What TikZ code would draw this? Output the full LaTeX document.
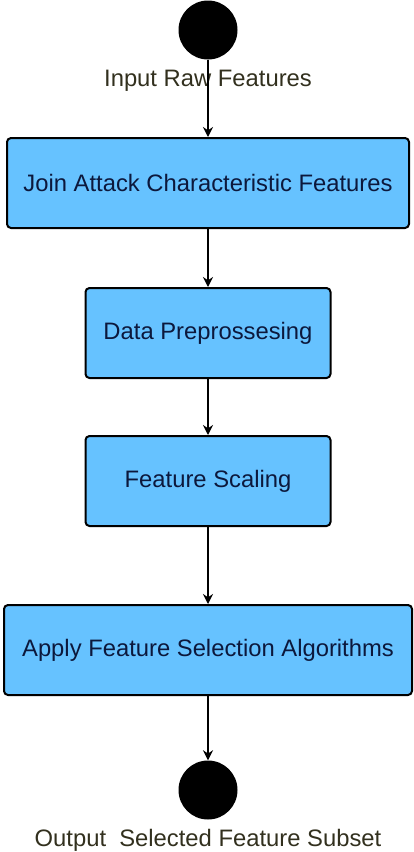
\documentclass[tikz,border=0pt]{standalone}
\usepackage{fontspec}
\setmainfont{Liberation Sans}
\usetikzlibrary{arrows.meta, positioning}
\definecolor{stepblue}{RGB}{102,194,255}
\definecolor{steptext}{RGB}{12,24,60}
\definecolor{lbltext}{RGB}{50,48,30}

\begin{document}
\begin{tikzpicture}[
        x=1pt, y=1pt, node distance=150pt, on grid,
        >={Stealth[length=10pt,width=10pt]},
        every node/.style={font=\fontsize{23.8}{28}\selectfont},
        action/.style={draw, line width=2pt, rounded corners=4pt, fill=stepblue,
          minimum height=90pt, text=steptext},
        terminal/.style={circle, fill=black, minimum size=59pt, inner sep=0pt},
        ]
        \useasboundingbox (0,0) rectangle (414,-852);
        % start and end markers
        \node[terminal] (start) at (208,-30) {};
        \node[text=lbltext] (in_lbl) at (208,-81) {Input Raw Features};
        \node[action, minimum width=402pt] (join) [below=153pt of start] {Join Attack Characteristic Features};
        \node[action, minimum width=245pt] (prep) [below=150pt of join] {Data Preprossesing};
        \node[action, minimum width=245pt] (scal) [below=148pt of prep] {Feature Scaling};
        \node[action, minimum width=408pt] (algo) [below=169pt of scal] {Apply Feature Selection Algorithms};
        \node[terminal] (stop) [below=140pt of algo] {};
        \node[text=lbltext] (out_lbl) [below=50pt of stop] {Output\ \ Selected Feature Subset};

        \path[->, line width=2.2pt] (start) edge (join)
        (join) edge (prep)
        (prep) edge (scal)
        (scal) edge (algo)
        (algo) edge (stop);
      \end{tikzpicture}
\end{document}
